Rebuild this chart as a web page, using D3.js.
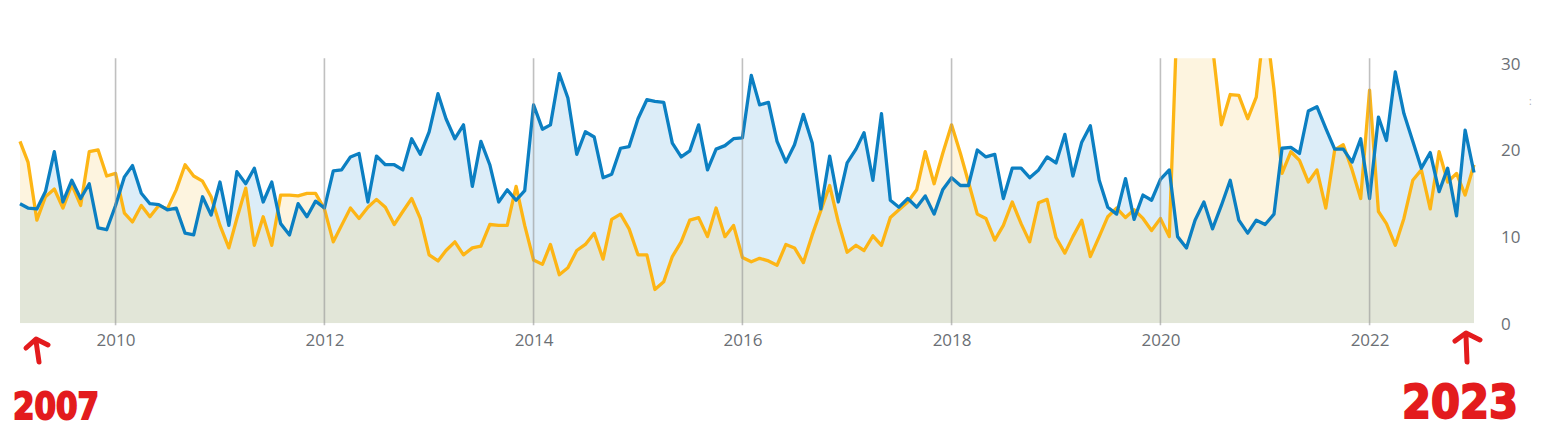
<!DOCTYPE html>
<html>
<head>
<meta charset="utf-8">
<script src="https://cdn.jsdelivr.net/npm/d3@7/dist/d3.min.js"></script>
<style>
  html, body { margin: 0; padding: 0; background: #ffffff; }
  svg { display: block; }
</style>
</head>
<body>
<svg id="chart" width="1549" height="430"></svg>
<script>
// ---------- data ----------
const startMonth = "2009-02-01";   // first monthly observation
const endMonth = "2023-01-01";     // last monthly observation

const blueSeries = [
  13.8,13.3,13.2,15.2,19.8,14.0,16.5,14.4,16.1,11.0,10.8,13.6,
  16.9,18.2,15.0,13.8,13.7,13.1,13.3,10.4,10.2,14.6,12.5,16.3,
  11.3,17.5,16.1,17.9,14.0,16.3,11.5,10.2,13.8,12.3,14.1,13.3,
  17.6,17.7,19.2,19.6,14.0,19.3,18.3,18.3,17.7,21.3,19.5,22.1,
  26.5,23.6,21.3,22.9,15.8,21.0,18.3,14.0,15.4,14.2,15.3,25.2,
  22.4,22.9,28.8,26.0,19.5,22.1,21.5,16.8,17.2,20.2,20.4,23.6,
  25.8,25.6,25.5,20.8,19.2,19.9,22.9,17.7,20.1,20.5,21.3,21.4,
  28.6,25.2,25.5,21.0,18.6,20.6,24.1,20.8,13.2,19.3,14.0,18.5,
  20.1,22.0,16.5,24.2,14.2,13.4,14.4,13.4,14.7,12.6,15.4,16.8,
  15.9,15.9,20.0,19.2,19.5,14.4,17.9,17.9,16.8,17.7,19.2,18.5,
  21.8,17.0,20.9,22.8,16.5,13.4,12.6,16.7,12.0,14.8,14.2,16.6,
  17.7,10.0,8.7,11.9,14.0,10.9,13.6,16.5,11.9,10.4,11.9,11.4,
  12.6,20.2,20.3,19.6,24.5,25.0,22.5,20.1,20.1,18.6,21.3,14.4,
  23.8,21.1,29.0,24.2,21.0,17.9,19.7,15.2,17.9,12.4,22.3,17.4
];

const yellowSeries = [
  21.0,18.6,11.9,14.6,15.5,13.3,16.0,13.6,19.8,20.0,17.0,17.3,
  12.7,11.7,13.6,12.3,13.6,13.2,15.4,18.3,17.0,16.4,14.6,11.3,
  8.7,12.1,15.6,9.0,12.3,9.0,14.8,14.8,14.7,15.0,15.0,13.2,
  9.4,11.3,13.3,12.1,13.4,14.3,13.4,11.4,12.9,14.4,12.1,7.9,
  7.2,8.4,9.4,7.9,8.7,8.9,11.4,11.3,11.3,15.8,11.3,7.3,
  6.8,9.1,5.6,6.4,8.4,9.1,10.4,7.4,12.0,12.6,10.9,7.9,
  7.9,3.9,4.8,7.7,9.4,11.9,12.2,10.0,13.3,10.0,11.3,7.6,
  7.1,7.5,7.2,6.7,9.1,8.7,7.0,10.2,13.0,15.9,11.7,8.2,
  9.0,8.4,10.1,9.0,12.2,13.1,14.0,15.4,19.8,16.1,19.6,22.9,
  19.6,16.3,12.6,12.1,9.6,11.3,14.0,11.5,9.4,13.9,14.3,9.9,
  8.1,10.0,11.9,7.7,10.0,12.3,13.3,12.2,13.1,12.1,10.7,12.1,
  10.0,37.0,42.0,40.0,36.0,32.0,22.9,26.4,26.3,23.6,26.1,35.4,
  27.0,17.3,19.8,18.8,16.3,17.7,13.3,20.0,20.6,17.7,14.4,26.9,
  12.9,11.5,9.0,12.1,16.5,17.7,13.2,19.8,16.3,17.3,14.8,18.3
];

const yTickValues = [0, 10, 20, 30];
const yTickLabels = ["0", "10", "20", "30"];
const xTickYears = [2010, 2012, 2014, 2016, 2018, 2020, 2022];
const xTickLabels = ["2010", "2012", "2014", "2016", "2018", "2020", "2022"];
const annotationLeft = "2007";
const annotationRight = "2023";

// ---------- layout ----------
const svg = d3.select("#chart");
const plot = { left: 20, right: 1474, top: 58.3, bottom: 323.3 };
const colors = {
  blue: "#0b7fc2", yellow: "#fdb515",
  blueFill: "#dcedf8", yellowFill: "#fdf4df", overlapFill: "#e2e6d8",
  grid: "rgba(150,150,150,0.6)", text: "#6b6f75", red: "#e31b1d"
};

const parse = d3.timeParse("%Y-%m-%d");
const start = parse(startMonth);
const dates = blueSeries.map((_, i) => d3.timeMonth.offset(start, i));
const blueData = dates.map((d, i) => ({ date: d, v: blueSeries[i] }));
const yellowData = dates.map((d, i) => ({ date: d, v: yellowSeries[i] }));

const x = d3.scaleTime().domain([start, parse(endMonth)]).range([plot.left, plot.right]);
const y = d3.scaleLinear().domain([0, 30.58]).range([plot.bottom, plot.top]);

const defs = svg.append("defs");
defs.append("clipPath").attr("id", "plotClip")
  .append("rect")
  .attr("x", plot.left - 3).attr("y", plot.top)
  .attr("width", plot.right - plot.left + 6).attr("height", plot.bottom - plot.top);

const area = d3.area().x(d => x(d.date)).y0(y(0)).y1(d => y(d.v));
const line = d3.line().x(d => x(d.date)).y(d => y(d.v));

defs.append("clipPath").attr("id", "blueAreaClip")
  .append("path").attr("d", area(blueData));

const g = svg.append("g").attr("clip-path", "url(#plotClip)");
g.append("path").attr("d", area(blueData)).attr("fill", colors.blueFill);
g.append("path").attr("d", area(yellowData)).attr("fill", colors.yellowFill);
g.append("g").attr("clip-path", "url(#blueAreaClip)")
  .append("path").attr("d", area(yellowData)).attr("fill", colors.overlapFill);

// vertical gridlines
const tickDates = xTickYears.map(yr => new Date(yr, 0, 1));
svg.append("g").selectAll("line").data(tickDates).join("line")
  .attr("x1", d => x(d)).attr("x2", d => x(d))
  .attr("y1", plot.top).attr("y2", plot.bottom + 2)
  .attr("stroke", colors.grid).attr("stroke-width", 1.6);

// lines
g.append("path").attr("d", line(yellowData)).attr("fill", "none")
  .attr("stroke", colors.yellow).attr("stroke-width", 3.3).attr("stroke-linejoin", "round");
g.append("path").attr("d", line(blueData)).attr("fill", "none")
  .attr("stroke", colors.blue).attr("stroke-width", 3.3).attr("stroke-linejoin", "round");

// x axis labels
const xAxis = d3.axisBottom(x).tickValues(tickDates)
  .tickFormat((d, i) => xTickLabels[i]).tickSize(0).tickPadding(0);
const xg = svg.append("g").attr("transform", `translate(0,${plot.bottom + 11})`).call(xAxis);
xg.select(".domain").remove();
xg.selectAll("text").attr("fill", colors.text)
  .style("font-family", "'Open Sans', sans-serif").style("font-size", "17px")
  .attr("dy", "0.71em");

// y axis labels (right)
const yAxis = d3.axisRight(y).tickValues(yTickValues)
  .tickFormat((d, i) => yTickLabels[i]).tickSize(0).tickPadding(0);
const yg = svg.append("g").attr("transform", `translate(1501,0)`).call(yAxis);
yg.select(".domain").remove();
yg.selectAll("text").attr("fill", colors.text)
  .style("font-family", "'Open Sans', sans-serif").style("font-size", "17px")
  .attr("dy", "0.35em").attr("text-anchor", "start");

// small clipped mark at right edge
svg.append("text").attr("x", 1529).attr("y", 105).text(":")
  .attr("fill", "#aaaaaa").style("font-family", "'Open Sans', sans-serif").style("font-size", "10px");

// ---------- red hand annotations ----------
const ann = svg.append("g").attr("stroke", colors.red).attr("fill", "none")
  .attr("stroke-width", 5).attr("stroke-linecap", "round").attr("stroke-linejoin", "round");
ann.append("path").attr("d", "M39,362 L36,341");
ann.append("path").attr("d", "M26,348 L36,339 L48,345");
ann.append("path").attr("d", "M1467,362 L1466,336");
ann.append("path").attr("d", "M1455,341 L1466,333 L1480,340");

svg.append("text").attr("x", 13).attr("y", 419).text(annotationLeft)
  .attr("textLength", 86).attr("lengthAdjust", "spacingAndGlyphs")
  .attr("fill", colors.red).attr("stroke", colors.red).attr("stroke-width", 2)
  .style("font-family", "'DejaVu Sans', sans-serif").style("font-weight", "bold").style("font-size", "38px");
svg.append("text").attr("x", 1402).attr("y", 418).text(annotationRight)
  .attr("textLength", 116).attr("lengthAdjust", "spacingAndGlyphs")
  .attr("fill", colors.red).attr("stroke", colors.red).attr("stroke-width", 2)
  .style("font-family", "'DejaVu Sans', sans-serif").style("font-weight", "bold").style("font-size", "46px");
</script>
</body>
</html>
